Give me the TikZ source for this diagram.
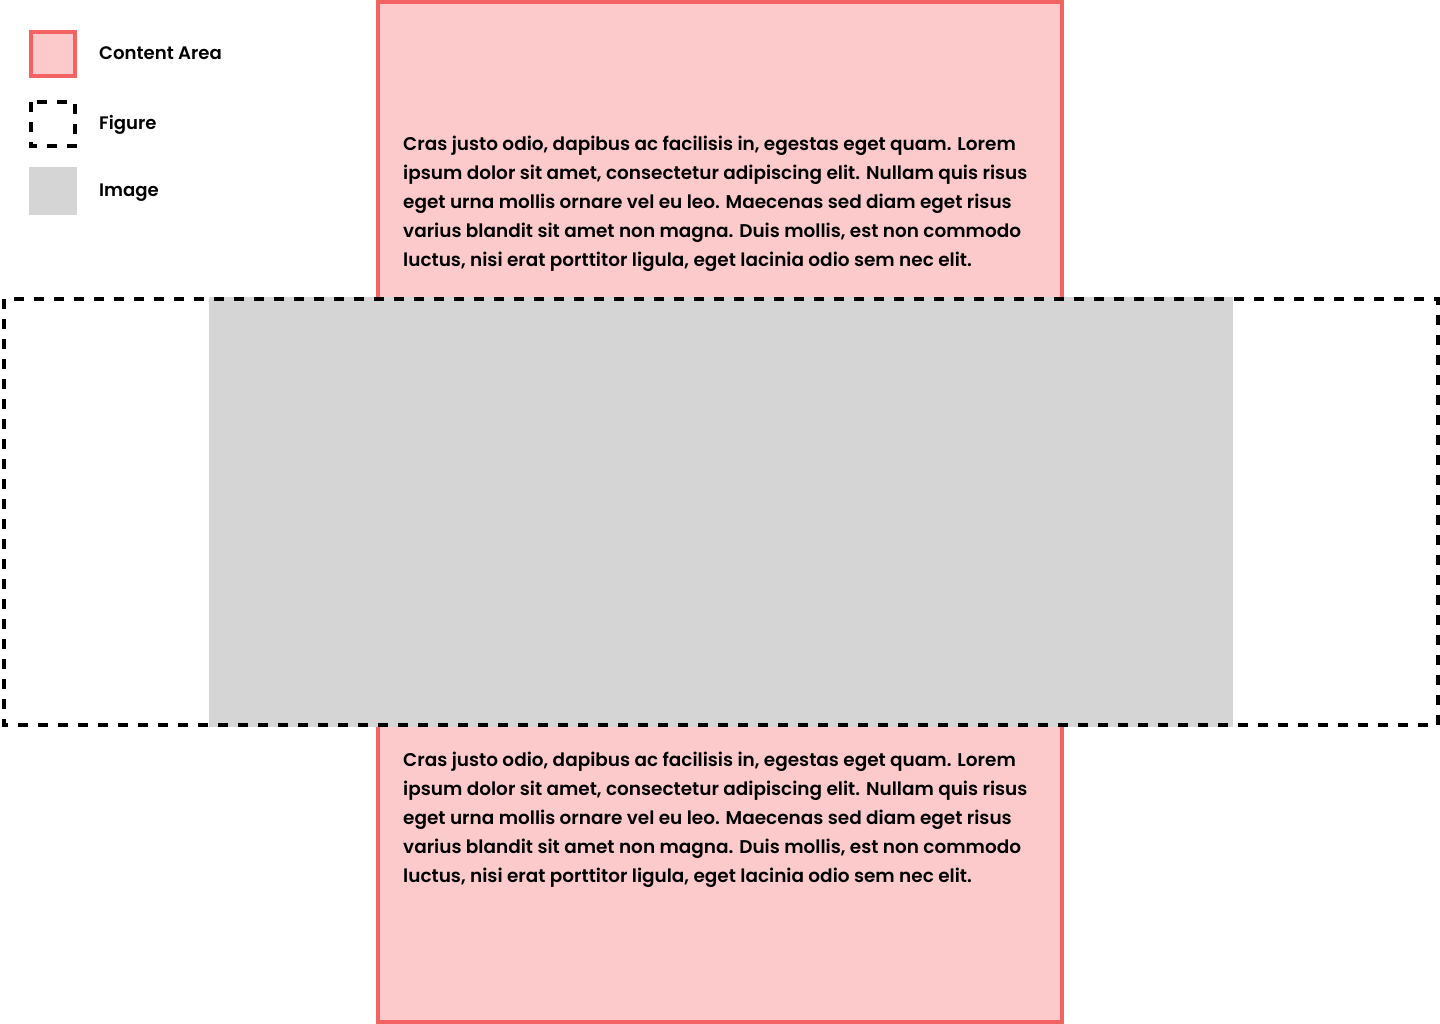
\documentclass[tikz,border=0pt]{standalone}
\usepackage{fontspec}
\setmainfont{Poppins}[UprightFont=* SemiBold]
\definecolor{redline}{HTML}{F46363}
\definecolor{redfill}{HTML}{FCCACA}
\definecolor{imggray}{HTML}{D5D5D5}
\begin{document}
\begin{tikzpicture}[x=1pt,y=-1pt,
  content/.style={draw=redline,fill=redfill,line width=4pt},
  figbox/.style={draw=black,line width=3.8pt,dash pattern=on 10pt off 10pt},
  imagebox/.style={fill=imggray},
  body/.style={anchor=base west,inner sep=0pt,font=\fontsize{18.45}{29}\selectfont},
  legendtext/.style={anchor=base west,inner sep=0pt,font=\fontsize{18.1}{22}\selectfont}]
\fill[white] (0,0) rectangle (1440,1024);
\useasboundingbox (0,0) rectangle (1440,1024);
% content areas
\draw[content] (378,2) rectangle (1061.5,299);
\draw[content] (378,725) rectangle (1061.5,1022);
% image
\fill[imggray] (209,297) rectangle (1233,727);
% figure
\draw[figbox] (4,299) rectangle (1438,725);
% top text
\node[body] (t1) at (403,151) {Cras justo odio, dapibus ac facilisis in, egestas eget quam. Lorem};
\node[body] (t2) at (403,180) {ipsum dolor sit amet, consectetur adipiscing elit. Nullam quis risus};
\node[body] (t3) at (403,209) {eget urna mollis ornare vel eu leo. Maecenas sed diam eget risus};
\node[body] (t4) at (403,238) {varius blandit sit amet non magna. Duis mollis, est non commodo};
\node[body] (t5) at (403,267) {luctus, nisi erat porttitor ligula, eget lacinia odio sem nec elit.};
% bottom text
\node[body] (b1) at (403,766) {Cras justo odio, dapibus ac facilisis in, egestas eget quam. Lorem};
\node[body] (b2) at (403,795) {ipsum dolor sit amet, consectetur adipiscing elit. Nullam quis risus};
\node[body] (b3) at (403,824) {eget urna mollis ornare vel eu leo. Maecenas sed diam eget risus};
\node[body] (b4) at (403,853) {varius blandit sit amet non magna. Duis mollis, est non commodo};
\node[body] (b5) at (403,882) {luctus, nisi erat porttitor ligula, eget lacinia odio sem nec elit.};
% legend
\draw[content] (31,32) rectangle (75,76);
\draw[black,line width=4pt,dash pattern=on 10pt off 10pt] (31,102) rectangle (75,146);
\fill[imggray] (29,167) rectangle (77,215);
\node[legendtext] (l1) at (99,59.3) {Content Area};
\node[legendtext] (l2) at (99,129.3) {Figure};
\node[legendtext] (l3) at (99,196.7) {Image};
\end{tikzpicture}
\end{document}
